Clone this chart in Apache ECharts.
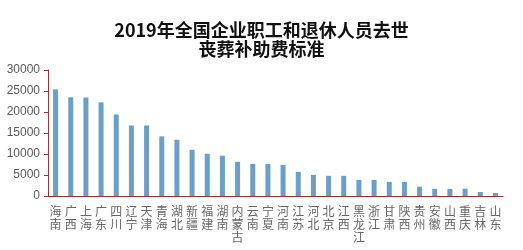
<!DOCTYPE html>
<html><head><meta charset="utf-8">
<script src="https://cdn.jsdelivr.net/npm/echarts@6/dist/echarts.min.js"></script>
<style>html,body{margin:0;padding:0;background:#fff}#c{width:523px;height:250px}</style>
</head><body><div id="c"></div>
<script>
const titleText = '2019年全国企业职工和退休人员去世\n丧葬补助费标准';
const provinces = ['海南','广西','上海','广东','四川','辽宁','天津','青海','湖北','新疆','福建','湖南','内蒙古','云南','宁夏','河南','江苏','河北','北京','江西','黑龙江','浙江','甘肃','陕西','贵州','安徽','山西','重庆','吉林','山东'];
const subsidy = [25400,23500,23450,22300,19400,16800,16800,14200,13400,11000,10050,9600,8150,7650,7650,7400,5750,5030,4800,4800,3830,3830,3350,3350,2220,1680,1680,1740,960,720];
const yTicks = [0,5000,10000,15000,20000,25000,30000];

const chart = echarts.init(document.getElementById('c'));
chart.setOption({
  animation:false,
  title:{text:titleText,left:'center',top:16,textStyle:{fontFamily:'Noto Sans CJK SC',fontSize:18,fontWeight:'bold',color:'#111',lineHeight:19}},
  grid:{left:48,right:20,top:70,bottom:54,containLabel:false},
  xAxis:{type:'category',data:provinces,
    axisLine:{lineStyle:{color:'#a3302c',width:1}},
    axisTick:{inside:true,length:3,lineStyle:{color:'#a3302c'}},
    axisLabel:{interval:0,margin:9,color:'#666',fontFamily:'Noto Sans CJK SC',fontSize:12,lineHeight:13,
      formatter:v=>v.split('').join('\n')}},
  yAxis:{type:'value',min:yTicks[0],max:yTicks[yTicks.length-1],interval:5000,
    axisLine:{show:true,lineStyle:{color:'#a3302c'}},
    axisTick:{show:true,length:4,lineStyle:{color:'#a3302c'}},
    splitLine:{show:false},
    axisLabel:{color:'#595959',fontFamily:'Liberation Sans',fontSize:12,margin:8,formatter:v=>String(v)}},
  series:[{type:'bar',data:subsidy,barWidth:5,itemStyle:{color:'#6b9fc8'}}]
});
</script></body></html>
